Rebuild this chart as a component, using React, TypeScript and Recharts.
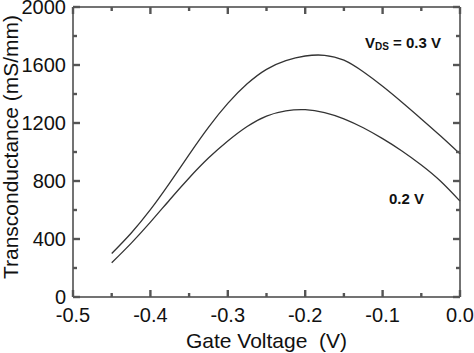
import { LineChart, Line, XAxis, YAxis, ReferenceDot } from "recharts";

// values (mS/mm)
const gateVoltage = [
  -0.45, -0.425, -0.4, -0.375, -0.35, -0.325, -0.3, -0.275, -0.25, -0.225,
  -0.2, -0.175, -0.15, -0.125, -0.1, -0.075, -0.05, -0.025, 0,
];
const gmVds03 = [
  300, 440, 602, 787, 982, 1170, 1335, 1470, 1570, 1630, 1662, 1667, 1633,
  1553, 1453, 1343, 1228, 1110, 987,
];
const gmVds02 = [
  236, 370, 516, 671, 821, 958, 1076, 1176, 1248, 1284, 1292, 1272, 1229,
  1167, 1092, 1007, 910, 798, 661,
];

const xTicks = [
  -0.5, -0.45, -0.4, -0.35, -0.3, -0.25, -0.2, -0.15, -0.1, -0.05, 0,
];
const yTicks = [
  0, 200, 400, 600, 800, 1000, 1200, 1400, 1600, 1800, 2000,
];

const data = gateVoltage.map((v, i) => ({
  v,
  vds03: gmVds03[i],
  vds02: gmVds02[i],
}));

const AXIS = "#444";
const TICK = "#555";
const LINE = "#333";
const TEXT = "#111";
const FONT = "'Liberation Sans', Arial, sans-serif";

const isMajorX = (v: number) => Math.abs(Math.round(v * 100)) % 10 === 0;
const isMajorY = (v: number) => v % 400 === 0;
const fmtX = (v: number) => (v === 0 ? "0.0" : v.toFixed(1));

function BottomTick(props: any) {
  const { x, y, payload } = props;
  if (!isMajorX(payload.value)) return <g />;
  return (
    <text x={x} y={y} dy="0.71em" textAnchor="middle" fontSize={20} fill={TEXT} fontFamily={FONT}>
      {fmtX(payload.value)}
    </text>
  );
}

function LeftTick(props: any) {
  const { x, y, payload } = props;
  if (!isMajorY(payload.value)) return <g />;
  return (
    <text x={x} y={y} dy="0.355em" textAnchor="end" fontSize={20} fill={TEXT} fontFamily={FONT}>
      {payload.value}
    </text>
  );
}

// inward tick marks on all four sides, placed through the chart scales
const tickMark = (dx: number, dy: number) => (p: any) =>
  <path d={`M${p.cx},${p.cy}l${dx},${dy}`} stroke={TICK} strokeWidth={2.4} fill="none" />;

const xLabel = (props: any) => {
  const vb = props.viewBox;
  return (
    <text x={vb.x + vb.width / 2} y={vb.y + vb.height - 5} textAnchor="middle" fontSize={21} fill={TEXT} fontFamily={FONT}>
      Gate Voltage{"\u00A0 "}(V)
    </text>
  );
};

const yLabel = (props: any) => {
  const vb = props.viewBox;
  const cx = vb.x + 18;
  const cy = vb.y + vb.height / 2 - 5;
  return (
    <text x={cx} y={cy} transform={`rotate(-90, ${cx}, ${cy})`} textAnchor="middle" fontSize={21} fill={TEXT} fontFamily={FONT}>
      Transconductance (mS/mm)
    </text>
  );
};

const noteStyle = {
  position: "absolute" as const,
  fontFamily: FONT,
  fontWeight: "bold" as const,
  fontSize: 15,
  color: TEXT,
  whiteSpace: "nowrap" as const,
  lineHeight: "20px",
};

export default function App() {
  return (
    <div style={{ position: "absolute", left: 0, top: 0, width: 474, height: 353, background: "#fff" }}>
      <LineChart width={474} height={353} data={data} margin={{ top: 0, right: 0, bottom: 0, left: 0 }}>
        <XAxis
          xAxisId="b"
          dataKey="v"
          type="number"
          domain={[-0.5, 0]}
          ticks={xTicks}
          interval={0}
          height={56}
          tickSize={0}
          tickMargin={11}
          tickLine={false}
          axisLine={{ stroke: AXIS, strokeWidth: 1.5 }}
          tick={BottomTick}
          label={xLabel}
        />
        <XAxis
          xAxisId="t"
          orientation="top"
          dataKey="v"
          type="number"
          domain={[-0.5, 0]}
          height={7}
          tick={false}
          tickLine={false}
          axisLine={{ stroke: AXIS, strokeWidth: 1.5 }}
        />
        <YAxis
          yAxisId="l"
          type="number"
          domain={[0, 2000]}
          ticks={yTicks}
          interval={0}
          width={73}
          tickSize={0}
          tickMargin={7}
          tickLine={false}
          axisLine={{ stroke: AXIS, strokeWidth: 1.5 }}
          tick={LeftTick}
          label={yLabel}
        />
        <YAxis
          yAxisId="r"
          orientation="right"
          type="number"
          domain={[0, 2000]}
          width={14}
          tick={false}
          tickLine={false}
          axisLine={{ stroke: AXIS, strokeWidth: 1.5 }}
        />
        {xTicks.map((v) => (
          <ReferenceDot key={`b${v}`} xAxisId="b" yAxisId="l" x={v} y={0} ifOverflow="visible"
            shape={tickMark(0, isMajorX(v) ? -7 : -4)} />
        ))}
        {xTicks.map((v) => (
          <ReferenceDot key={`t${v}`} xAxisId="b" yAxisId="l" x={v} y={2000} ifOverflow="visible"
            shape={tickMark(0, isMajorX(v) ? 7 : 4)} />
        ))}
        {yTicks.map((v) => (
          <ReferenceDot key={`l${v}`} xAxisId="b" yAxisId="l" x={-0.5} y={v} ifOverflow="visible"
            shape={tickMark(isMajorY(v) ? 7 : 4, 0)} />
        ))}
        {yTicks.map((v) => (
          <ReferenceDot key={`r${v}`} xAxisId="b" yAxisId="l" x={0} y={v} ifOverflow="visible"
            shape={tickMark(isMajorY(v) ? -7 : -4, 0)} />
        ))}
        <Line xAxisId="b" yAxisId="l" type="natural" dataKey="vds03" stroke={LINE} strokeWidth={1.3} dot={false} isAnimationActive={false} />
        <Line xAxisId="b" yAxisId="l" type="natural" dataKey="vds02" stroke={LINE} strokeWidth={1.3} dot={false} isAnimationActive={false} />
      </LineChart>
      <div style={{ ...noteStyle, left: 365, top: 33 }}>
        V<span style={{ fontSize: 10, verticalAlign: "-2px" }}>DS</span> = 0.3 V
      </div>
      <div style={{ ...noteStyle, left: 389, top: 189 }}>0.2 V</div>
    </div>
  );
}
